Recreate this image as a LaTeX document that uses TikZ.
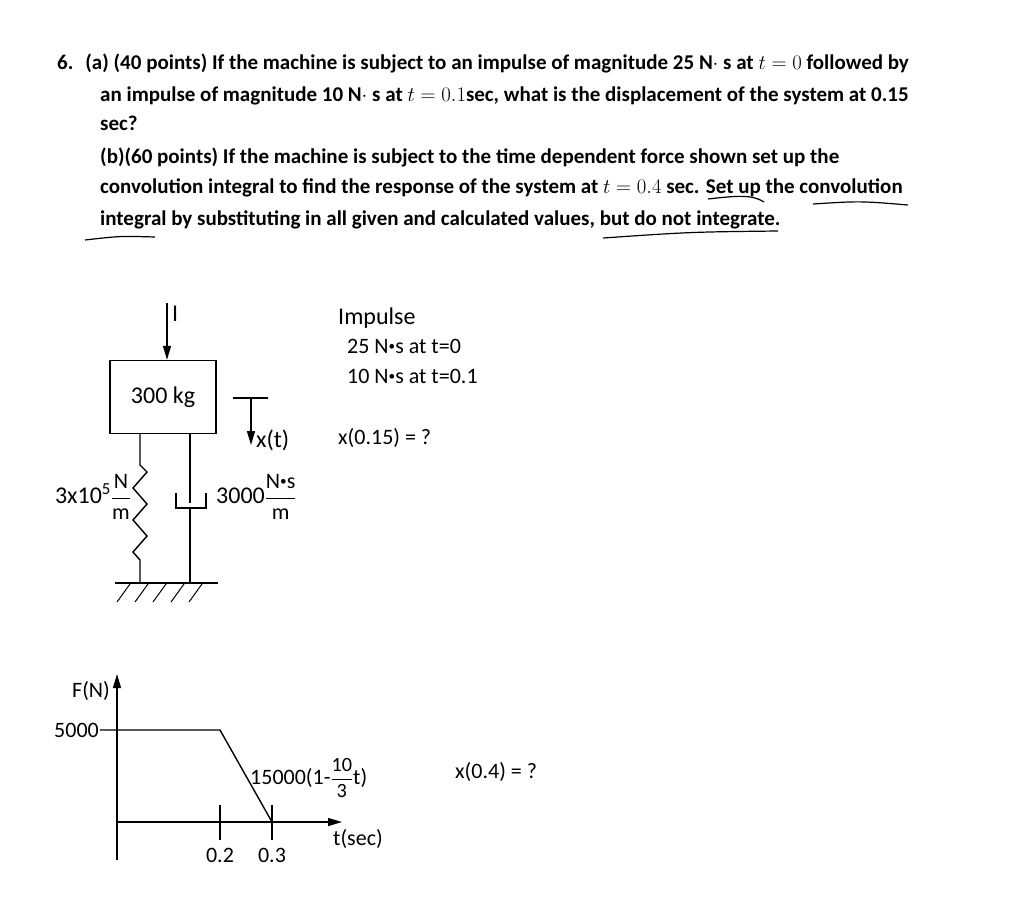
\documentclass[tikz,border=0pt]{standalone}
\usepackage{fontspec}
\setmainfont{Carlito}
\usetikzlibrary{arrows.meta}
\newcommand{\fr}[2]{\scalebox{0.92}{$\displaystyle\frac{\mbox{#1}}{\mbox{#2}}$}}
\newcommand{\bdot}{\raisebox{0.25ex}{\scalebox{0.6}{\textbullet}}}
\begin{document}
\begin{tikzpicture}[x=1pt,y=-1pt,
  q/.style={anchor=base west,inner sep=0pt,font=\fontsize{21}{21}\selectfont\bfseries},
  lab/.style={inner sep=0pt,font=\fontsize{24}{24}\selectfont},
  sm/.style={inner sep=0pt,font=\fontsize{22}{22}\selectfont},
  ln/.style={line width=1.4pt},
  hand/.style={line width=1.2pt},
  arr/.style={ln,-{Triangle[length=14pt,width=8pt]}}]
\useasboundingbox (0,0) rectangle (1024,900);
\fill[white] (0,0) rectangle (1024,900);
% question
\node[q] (t1) at (57,69) {6.\hspace{12pt}(a) (40 points) If the machine is subject to an impulse of magnitude 25 N$\cdot$ s at $t=0$ followed by};
\node[q] (t2) at (100,101) {an impulse of magnitude 10 N$\cdot$ s at $t=0.1$sec, what is the displacement of the system at 0.15};
\node[q] (t3) at (100,130) {sec?};
\node[q] (t4) at (100,163) {(b)(60 points) If the machine is subject to the time dependent force shown set up the};
\node[q] (t5) at (100,193) {convolution integral to find the response of the system at $t=0.4$ sec. Set up the convolution};
\node[q] (t6) at (100,225) {integral by substituting in all given and calculated values, but do not integrate.};
\draw[hand] (813,204) .. controls (860,201) .. (908,205);
\draw[hand] (708,199) .. controls (735,196) and (752,194) .. (764,202);
\draw[hand] (85,240) .. controls (120,236) .. (155,237);
\draw[hand] (603,238) .. controls (690,232) .. (778,231);
% machine
\node[draw,ln,minimum width=106pt,minimum height=73pt,inner sep=0pt,lab] (m) at (163,397) {300 kg};
\coordinate (ftop) at (167,303);
\draw[arr] (ftop) -- (m.north -| ftop);
\node[lab,anchor=west] (I) at (172,314) {I};
\coordinate (tb1) at (233,398); \coordinate (tb2) at (268,398);
\draw[ln] (tb1) -- (tb2);
\coordinate (xa) at (251,398); \coordinate (xb) at (251,445);
\draw[arr] (xa) -- (xb);
\node[lab,anchor=west] (xt) at (256,440) {x(t)};
% spring
\coordinate (s0) at (140,433); \coordinate (s1) at (140,465);
\coordinate (s3) at (140,583);
\draw[ln] (s0) -- (s1) -- (147,472) -- (133,488) -- (147,504) -- (133,520) -- (147,536) -- (133,552) -- (140,560) -- (s3);
% damper
\coordinate (d0) at (190,433); \coordinate (d1) at (190,503);
\draw[ln] (d0) -- (d1);
\draw[ln] (176,493) -- (176,508) -- (206,508) -- (206,493);
\coordinate (d2) at (190,508); \coordinate (d3) at (190,583);
\draw[ln] (d2) -- (d3);
% ground
\coordinate (g1) at (115,583); \coordinate (g2) at (218,583);
\draw[ln] (g1) -- (g2);
\foreach \i in {0,...,4} \draw[line width=1pt] (130+\i*18,584) -- (117+\i*18,602);
\node[lab,anchor=east] (kl) at (131,497) {3x10\textsuperscript{5}\fr{N}{m}};
\node[lab,anchor=west] (cl) at (216,497) {3000\fr{N\bdot s}{m}};
% impulse text
\node[lab,anchor=base west] (imp) at (338,324) {Impulse};
\node[sm,anchor=base west] (i1) at (347,353) {25 N\bdot s at t=0};
\node[sm,anchor=base west] (i2) at (347,383) {10 N\bdot s at t=0.1};
\node[sm,anchor=base west] (x15) at (338,444) {x(0.15) = ?};
% graph
\coordinate (o) at (117,822); \coordinate (yb) at (117,860); \coordinate (yt) at (117,674);
\draw[arr] (yb) -- (yt);
\coordinate (xe) at (342,822);
\draw[arr] (o) -- (xe);
\draw[ln] (100,730) -- (220,730) -- (272,822);
\draw[ln] (220,805) -- (220,840);
\draw[ln] (272,805) -- (272,840);
\node[sm,anchor=east] (f5) at (99,730) {5000};
\node[sm] (fn) at (91,691) {F(N)};
\node[sm] (l2) at (220,855) {0.2};
\node[sm] (l3) at (272,855) {0.3};
\node[sm,anchor=west] (ts) at (333,839) {t(sec)};
\node[sm,anchor=west] (eq) at (250,778) {15000(1-\fr{10}{3}t)};
\node[sm,anchor=west] (x4) at (455,772) {x(0.4) = ?};
\end{tikzpicture}
\end{document}
